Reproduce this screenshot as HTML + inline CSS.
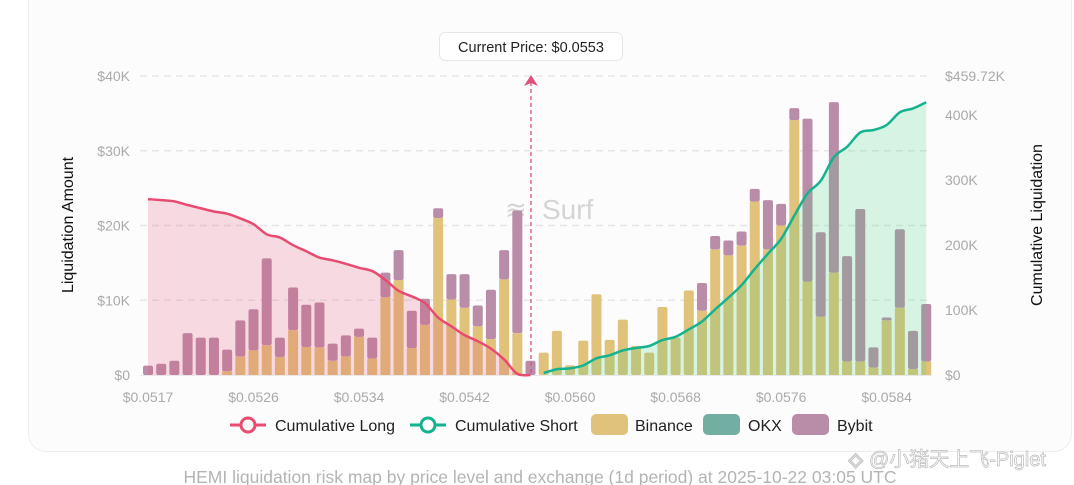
<!DOCTYPE html>
<html><head><meta charset="utf-8">
<style>
html,body{margin:0;padding:0;background:#fff;width:1074px;height:485px;overflow:hidden;font-family:"Liberation Sans","Noto Sans CJK SC",sans-serif;}
#card{position:absolute;left:28px;top:-20px;width:1044px;height:472px;border:1px solid #eee;border-radius:18px;background:#fcfcfc;box-sizing:border-box;}
svg{position:absolute;left:0;top:0;}
</style></head><body>
<div id="card"></div>
<svg id="chart" width="1074" height="485"></svg>
<script>
const binance=[0,0,0,0,0,0,0.5,2.5,3.3,4.0,2.4,6.0,3.75,3.7,1.9,2.5,5.1,2.2,10.4,12.7,3.6,6.7,21.0,10.1,9.0,6.5,4.8,12.8,5.6,0,
3.0,5.9,1.3,4.6,10.8,4.7,7.4,3.9,3.0,9.1,5.0,11.3,8.6,16.8,16.0,17.3,23.2,16.8,20.0,34.1,12.5,7.8,13.7,1.8,1.8,1.0,7.3,9.0,0.8,1.8];
const okx=new Array(60).fill(0);
const bybit=[1.25,1.5,1.9,5.6,5.0,5.0,2.9,4.8,5.5,11.6,2.6,5.7,5.65,6.0,2.3,2.8,1.1,2.8,3.3,4.0,5.0,3.5,1.3,3.4,4.5,2.8,6.6,3.9,16.4,1.9,
0,0,0,0,0,0,0,0,0,0,0,0,3.7,1.8,2.0,1.9,1.7,6.6,2.9,1.6,21.8,11.3,22.8,14.1,20.4,2.7,0.4,10.5,5.1,7.7];
const xTickIdx=[0,8,16,24,32,40,48,56];
const xTickLabels=["$0.0517","$0.0526","$0.0534","$0.0542","$0.0560","$0.0568","$0.0576","$0.0584"];
const leftTicks=[0,10,20,30,40];
const rightTicks=[0,100,200,300,400];
const rightMax=459.72;
const currentIdx=29;

const svg=document.getElementById('chart');
const NS='http://www.w3.org/2000/svg';
function mk(t,a,parent){const e=document.createElementNS(NS,t);for(const k in a)e.setAttribute(k,a[k]);(parent||svg).appendChild(e);return e;}
const y0=375,yTop=76;
const yL=v=>y0-(v/40)*(y0-yTop);
const yR=v=>y0-(v/rightMax)*(y0-yTop);
const xC=i=>148+i*13.19;
const bw=10;

leftTicks.forEach(t=>{if(t>0){const g=mk('line',{x1:140,x2:930,y1:yL(t),y2:yL(t),stroke:'#e6e6e6','stroke-dasharray':'7,5','stroke-width':1.5});
}});
mk('line',{x1:140,x2:932,y1:y0+0.5,y2:y0+0.5,stroke:'#e8e8e8','stroke-width':1});

const wm=mk('text',{x:542,y:219,'font-size':28,fill:'#d4d4d4'});wm.textContent='Surf';

mk('text',{x:505,y:219,'font-size':26,fill:'#d4d4d4'}).textContent='≋';

for(let i=0;i<60;i++){
  let base=0;
  [[binance,'#e0c27a'],[okx,'#72aea2'],[bybit,'#b98ca7']].forEach(([arr,c],k)=>{
    const v=arr[i];if(v<=0)return;
    const r=mk('rect',{x:xC(i)-bw/2,y:yL(base+v),width:bw,height:yL(base)-yL(base+v),fill:c,rx:(k===2||(k===0&&bybit[i]===0))?2:0});
    
    
    base+=v;
  });
}

const totals=binance.map((b,i)=>b+okx[i]+bybit[i]);
const longPts=[],shortPts=[];
for(let i=0;i<=currentIdx;i++){let s=0;for(let j=i+1;j<=currentIdx;j++)s+=totals[j];longPts.push([xC(i),yR(s)]);}
let acc=0;for(let i=currentIdx+1;i<60;i++){acc+=totals[i];shortPts.push([xC(i),yR(acc)]);}
function smooth(p){let d='M'+p[0][0]+','+p[0][1];
for(let i=0;i<p.length-1;i++){const p0=p[Math.max(0,i-1)],p1=p[i],p2=p[i+1],p3=p[Math.min(p.length-1,i+2)];
const c1=[p1[0]+(p2[0]-p0[0])/6,p1[1]+(p2[1]-p0[1])/6],c2=[p2[0]-(p3[0]-p1[0])/6,p2[1]-(p3[1]-p1[1])/6];
d+=' C'+c1[0]+','+c1[1]+' '+c2[0]+','+c2[1]+' '+p2[0]+','+p2[1];}return d;}
const ld=smooth(longPts),sd=smooth(shortPts);
const la=mk('path',{d:ld+' L'+longPts[longPts.length-1][0]+','+y0+' L'+longPts[0][0]+','+y0+' Z',fill:'rgba(232,80,120,0.2)'});

const sa=mk('path',{d:sd+' L'+shortPts[shortPts.length-1][0]+','+y0+' L'+shortPts[0][0]+','+y0+' Z',fill:'rgba(70,210,130,0.2)'});

const ll=mk('path',{d:ld,fill:'none',stroke:'#e84a70','stroke-width':2.5});

const sl=mk('path',{d:sd,fill:'none',stroke:'#14b38f','stroke-width':2.5});


const cx=531;
const cl=mk('line',{x1:cx,x2:cx,y1:82,y2:y0,stroke:'#e0507a','stroke-dasharray':'4,3','stroke-width':1.3});

mk('path',{d:`M${cx-7},86 L${cx},75 L${cx+7},86 L${cx},83 Z`,fill:'#e0507a'});
const tb=mk('rect',{x:439.5,y:32.5,width:183,height:28,rx:6,fill:'#fff',stroke:'#e6e6e6'});

const tt=mk('text',{x:531,y:52,'font-size':14.5,fill:'#222','text-anchor':'middle'});tt.textContent='Current Price: $0.0553';

leftTicks.forEach(t=>{const e=mk('text',{x:130,y:yL(t)+5,'font-size':14,fill:'#aaa','text-anchor':'end'});e.textContent=t===0?'$0':'$'+t+'K';
});
rightTicks.forEach(t=>{const e=mk('text',{x:945,y:yR(t)+5,'font-size':14,fill:'#aaa'});e.textContent=t===0?'$0':t+'K';
});
{const e=mk('text',{x:945,y:yTop+5,'font-size':14,fill:'#aaa'});e.textContent='$'+rightMax+'K';}
xTickIdx.forEach((ix,k)=>{const e=mk('text',{x:xC(ix),y:402,'font-size':14,fill:'#aaa','text-anchor':'middle'});e.textContent=xTickLabels[k];
});
const yt=mk('text',{x:0,y:0,'font-size':16,fill:'#111','text-anchor':'middle',transform:'translate(73,225) rotate(-90)'});yt.textContent='Liquidation Amount';

const yt2=mk('text',{x:0,y:0,'font-size':16,fill:'#111','text-anchor':'middle',transform:'translate(1042,225) rotate(-90)'});yt2.textContent='Cumulative Liquidation';


function legLine(x,c,label,tx,name){const g=mk('g',{});
mk('line',{x1:x,x2:x+36,y1:425,y2:425,stroke:c,'stroke-width':3},g);mk('circle',{cx:x+18,cy:425,r:7,fill:'#fff',stroke:c,'stroke-width':3},g);
const t=mk('text',{x:tx,y:431,'font-size':16,fill:'#222'},g);t.textContent=label;}
legLine(230,'#e84a70','Cumulative Long',275,'legend-cumulative-long');
legLine(410,'#14b38f','Cumulative Short',455,'legend-cumulative-short');
function legBox(x,c,label,tx,name){const g=mk('g',{});
mk('rect',{x:x,y:414,width:37,height:21,rx:5,fill:c},g);const t=mk('text',{x:tx,y:431,'font-size':16,fill:'#222'},g);t.textContent=label;}
legBox(591,'#e0c27a','Binance',635,'legend-binance');
legBox(703,'#72aea2','OKX',748,'legend-okx');
legBox(792,'#b98ca7','Bybit',837,'legend-bybit');

const ft=mk('text',{x:540,y:483,'font-size':17.5,fill:'#b4b4b4','text-anchor':'middle'});ft.textContent='HEMI liquidation risk map by price level and exchange (1d period) at 2025-10-22 03:05 UTC';

const wm2=mk('text',{x:848,y:466,'font-size':20,fill:'#fff',stroke:'#bbb','stroke-width':0.7});wm2.textContent='◈ @小猪天上飞-Piglet';

</script>
</body></html>
